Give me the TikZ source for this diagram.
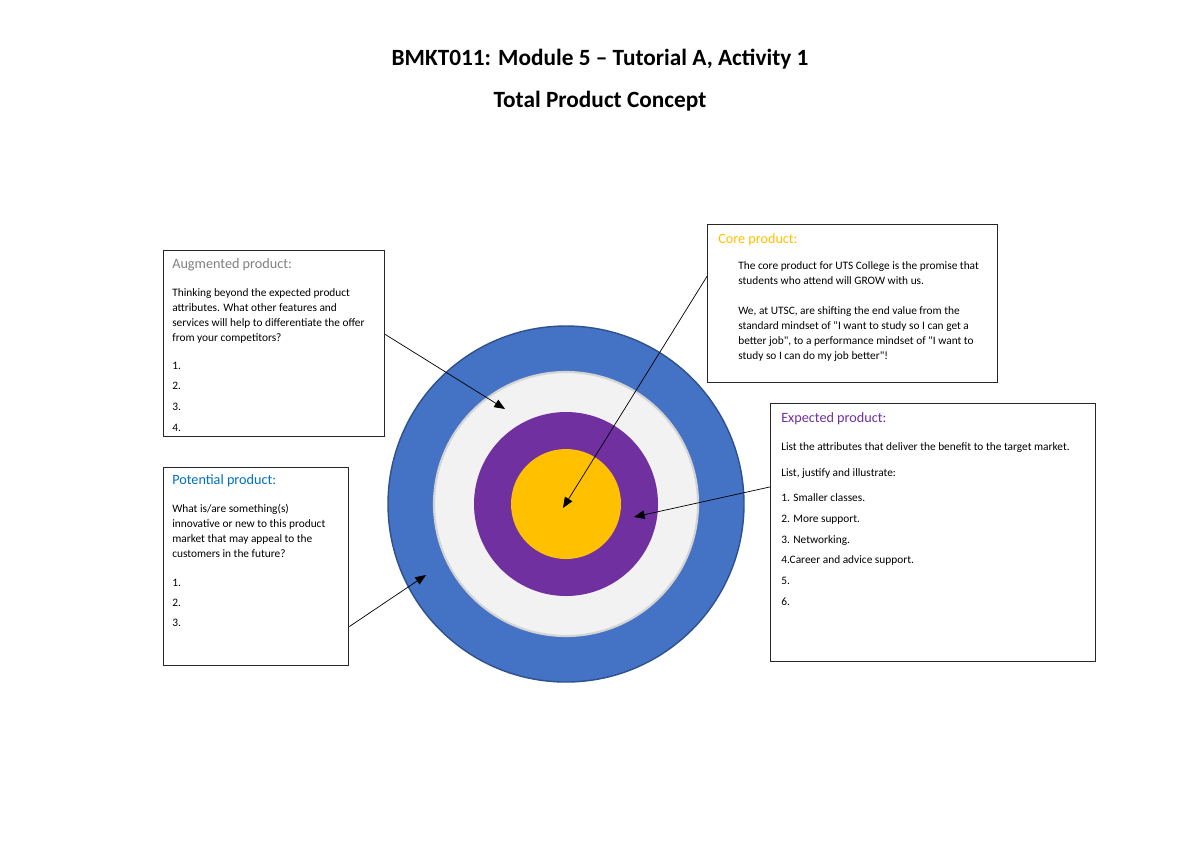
\documentclass[tikz,border=0pt]{standalone}
\usepackage{fontspec}
\setmainfont{Carlito}
\usepackage{xcolor}
\usetikzlibrary{arrows.meta}

\definecolor{ringblue}{HTML}{4472C4}
\definecolor{ringblueedge}{HTML}{2F528F}
\definecolor{ringgray}{HTML}{F2F2F2}
\definecolor{ringgrayedge}{HTML}{D4D4D4}
\definecolor{ringpurple}{HTML}{7030A0}
\definecolor{ringyellow}{HTML}{FFC000}
\definecolor{headgray}{HTML}{808080}
\definecolor{headblue}{HTML}{0070C0}

\begin{document}
\begin{tikzpicture}[
  x = 0.02475cm, y = -0.02475cm,
  > = {Triangle[length=7.5pt,width=6pt]},
  frame/.style = {draw=black!85, line width=0.7pt, anchor=north west,
                  inner sep=0pt},
  head/.style  = {anchor=north west, inner sep=0pt,
                  font=\fontsize{10}{12}\selectfont},
  body/.style  = {anchor=north west, inner sep=0pt, align=left,
                  font=\fontsize{8}{10.6}\selectfont},
  title/.style = {inner sep=0pt, font=\fontsize{16.4}{19}\selectfont\bfseries},
  pointer/.style = {->, line width=0.5pt}
]
\useasboundingbox[fill=white] (0,0) rectangle (1200,849);

% ───────── titles ─────────
\node[title] (ttl) at (600,59)  {BMKT011: Module 5 – Tutorial A, Activity 1};
\node[title] (sub) at (600,101) {Total Product Concept};

% ───────── target ─────────
\coordinate (ctr) at (566,504);
\draw[draw=ringblueedge, fill=ringblue, line width=1pt] (ctr) circle[radius=178];
\draw[draw=ringgrayedge, fill=ringgray, line width=1.5pt] (ctr) circle[radius=132];
\fill[ringpurple] (ctr) circle[radius=92];
\fill[ringyellow] (ctr) circle[radius=55];

% ───────── boxes ─────────
\node[frame, minimum width=155.8pt, minimum height=131.2pt] (aug)  at (163,250) {};
\node[frame, minimum width=130.5pt, minimum height=139.6pt] (pot)  at (163,467) {};
\node[frame, minimum width=204.2pt, minimum height=111.6pt] (core) at (707,224) {};
\node[frame, minimum width=228.7pt, minimum height=181.7pt] (exp)  at (770,403) {};

% ───────── augmented ─────────
\node[head, text=headgray] (aughead) at (172,258) {Augmented product:};
\node[body] (augbody) at (172,288) {Thinking beyond the expected product\\
  attributes. What other features and\\
  services will help to differentiate the offer\\
  from your competitors?\\[9.1pt]
  1.\\[3.8pt] 2.\\[3.8pt] 3.\\[4.2pt] 4.};

% ───────── potential ─────────
\node[head, text=headblue] (pothead) at (172,474) {Potential product:};
\node[body] (potbody) at (172,504) {What is/are something(s)\\
  innovative or new to this product\\
  market that may appeal to the\\
  customers in the future?\\[9.6pt]
  1.\\[3.6pt] 2.\\[3.6pt] 3.};

% ───────── core ─────────
\node[head, text=ringyellow] (corehead) at (718,233) {Core product:};
\node[body] (corebody) at (738,261) {The core product for UTS College is the promise that\\
  students who attend will GROW with us.\\[10.6pt]
  We, at UTSC, are shifting the end value from the\\
  standard mindset of \textquotedbl I want to study so I can get a\\
  better job\textquotedbl, to a performance mindset of \textquotedbl I want to\\
  study so I can do my job better\textquotedbl!};

% ───────── expected ─────────
\node[head, text=ringpurple] (exphead) at (781,412) {Expected product:};
\node[body] (expbody) at (781,442) {List the attributes that deliver the benefit to the target market.\\[7.6pt]
  List, justify and illustrate:\\[7.2pt]
  1. Smaller classes.\\[4.1pt]
  2. More support.\\[4.1pt]
  3. Networking.\\[4.1pt]
  4.Career and advice support.\\[4.1pt]
  5.\\[4.1pt]
  6.};

% ───────── arrows ─────────
\coordinate (augtip)  at (505,409);
\coordinate (pottip)  at (426,575);
\coordinate (coretip) at (563,508);
\coordinate (exptip)  at (634,517);

\draw[pointer] ([yshift=6.5pt]aug.east)    -- (augtip);
\draw[pointer] ([yshift=-42.2pt]pot.east)  -- (pottip);
\draw[pointer] ([yshift=19.3pt]core.west)  -- (coretip);
\draw[pointer] ([yshift=32.1pt]exp.west)   -- (exptip);

\end{tikzpicture}
\end{document}
